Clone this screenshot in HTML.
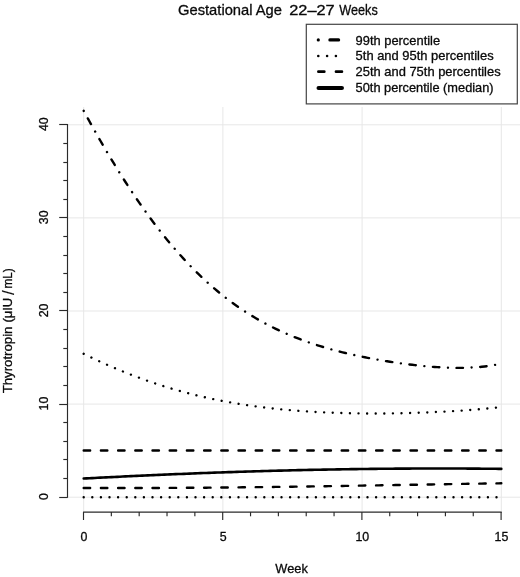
<!DOCTYPE html>
<html><head><meta charset="utf-8"><title>Gestational Age 22–27 Weeks</title>
<style>html,body{margin:0;padding:0;background:#fff}svg{display:block}</style></head>
<body>
<svg width="520" height="577" viewBox="0 0 520 577">
<rect width="520" height="577" fill="#fff"/>
<g stroke="#e7e7e7" stroke-width="1" fill="none">
<line x1="67.5" x2="520" y1="497.20" y2="497.20"/>
<line x1="67.5" x2="520" y1="404.10" y2="404.10"/>
<line x1="67.5" x2="520" y1="311.00" y2="311.00"/>
<line x1="67.5" x2="520" y1="217.90" y2="217.90"/>
<line x1="67.5" x2="520" y1="124.80" y2="124.80"/>
<line x1="83.70" x2="83.70" y1="107" y2="511"/>
<line x1="222.90" x2="222.90" y1="107" y2="511"/>
<line x1="362.10" x2="362.10" y1="107" y2="511"/>
<line x1="501.30" x2="501.30" y1="107" y2="511"/>
</g>
<g fill="none" stroke="#000" stroke-width="2.4" stroke-linecap="round" stroke-linejoin="round">
<path d="M83.70,110.87 L86.48,115.98 L89.27,121.03 L92.05,126.04 L94.84,131.00 L97.62,135.91 L100.40,140.76 L103.19,145.57 L105.97,150.32 L108.76,155.02 L111.54,159.66 L114.32,164.24 L117.11,168.77 L119.89,173.24 L122.68,177.65 L125.46,182.00 L128.24,186.29 L131.03,190.53 L133.81,194.70 L136.60,198.81 L139.38,202.85 L142.16,206.84 L144.95,210.76 L147.73,214.62 L150.52,218.42 L153.30,222.16 L156.08,225.83 L158.87,229.44 L161.65,232.98 L164.44,236.47 L167.22,239.89 L170.00,243.25 L172.79,246.54 L175.57,249.77 L178.36,252.95 L181.14,256.06 L183.92,259.10 L186.71,262.09 L189.49,265.02 L192.28,267.88 L195.06,270.69 L197.84,273.43 L200.63,276.12 L203.41,278.75 L206.20,281.32 L208.98,283.84 L211.76,286.29 L214.55,288.69 L217.33,291.04 L220.12,293.33 L222.90,295.57 L225.68,297.75 L228.47,299.88 L231.25,301.96 L234.04,303.99 L236.82,305.97 L239.60,307.90 L242.39,309.78 L245.17,311.61 L247.96,313.39 L250.74,315.13 L253.52,316.82 L256.31,318.47 L259.09,320.08 L261.88,321.64 L264.66,323.16 L267.44,324.64 L270.23,326.08 L273.01,327.48 L275.80,328.84 L278.58,330.17 L281.36,331.46 L284.15,332.71 L286.93,333.93 L289.72,335.11 L292.50,336.26 L295.28,337.38 L298.07,338.47 L300.85,339.53 L303.64,340.56 L306.42,341.55 L309.20,342.53 L311.99,343.47 L314.77,344.39 L317.56,345.28 L320.34,346.15 L323.12,347.00 L325.91,347.82 L328.69,348.62 L331.48,349.40 L334.26,350.15 L337.04,350.89 L339.83,351.61 L342.61,352.30 L345.40,352.98 L348.18,353.65 L350.96,354.29 L353.75,354.92 L356.53,355.53 L359.32,356.12 L362.10,356.70 L364.88,357.27 L367.67,357.82 L370.45,358.36 L373.24,358.88 L376.02,359.39 L378.80,359.88 L381.59,360.36 L384.37,360.83 L387.16,361.29 L389.94,361.73 L392.72,362.16 L395.51,362.58 L398.29,362.98 L401.08,363.37 L403.86,363.75 L406.64,364.11 L409.43,364.46 L412.21,364.80 L415.00,365.12 L417.78,365.43 L420.56,365.73 L423.35,366.00 L426.13,366.26 L428.92,366.51 L431.70,366.74 L434.48,366.95 L437.27,367.14 L440.05,367.31 L442.84,367.46 L445.62,367.59 L448.40,367.70 L451.19,367.78 L453.97,367.84 L456.76,367.87 L459.54,367.88 L462.32,367.85 L465.11,367.80 L467.89,367.72 L470.68,367.60 L473.46,367.45 L476.24,367.27 L479.03,367.04 L481.81,366.78 L484.60,366.47 L487.38,366.12 L490.16,365.73 L492.95,365.28 L495.73,364.79 L498.52,364.25 L501.30,363.65" stroke-dasharray="0.01 8.59 6.45 8.60"/>
<path d="M83.70,353.82 L86.48,355.19 L89.27,356.54 L92.05,357.87 L94.84,359.19 L97.62,360.49 L100.40,361.77 L103.19,363.03 L105.97,364.28 L108.76,365.51 L111.54,366.72 L114.32,367.92 L117.11,369.10 L119.89,370.26 L122.68,371.40 L125.46,372.52 L128.24,373.63 L131.03,374.72 L133.81,375.79 L136.60,376.84 L139.38,377.87 L142.16,378.89 L144.95,379.89 L147.73,380.87 L150.52,381.84 L153.30,382.79 L156.08,383.72 L158.87,384.63 L161.65,385.52 L164.44,386.40 L167.22,387.26 L170.00,388.11 L172.79,388.93 L175.57,389.74 L178.36,390.54 L181.14,391.31 L183.92,392.07 L186.71,392.82 L189.49,393.54 L192.28,394.25 L195.06,394.95 L197.84,395.63 L200.63,396.29 L203.41,396.94 L206.20,397.57 L208.98,398.19 L211.76,398.79 L214.55,399.38 L217.33,399.95 L220.12,400.50 L222.90,401.05 L225.68,401.57 L228.47,402.09 L231.25,402.59 L234.04,403.07 L236.82,403.54 L239.60,404.00 L242.39,404.45 L245.17,404.88 L247.96,405.30 L250.74,405.70 L253.52,406.09 L256.31,406.47 L259.09,406.84 L261.88,407.20 L264.66,407.54 L267.44,407.87 L270.23,408.19 L273.01,408.50 L275.80,408.80 L278.58,409.09 L281.36,409.36 L284.15,409.63 L286.93,409.88 L289.72,410.13 L292.50,410.36 L295.28,410.59 L298.07,410.80 L300.85,411.01 L303.64,411.20 L306.42,411.39 L309.20,411.57 L311.99,411.73 L314.77,411.89 L317.56,412.04 L320.34,412.18 L323.12,412.32 L325.91,412.44 L328.69,412.56 L331.48,412.67 L334.26,412.77 L337.04,412.87 L339.83,412.95 L342.61,413.03 L345.40,413.11 L348.18,413.17 L350.96,413.23 L353.75,413.28 L356.53,413.33 L359.32,413.36 L362.10,413.40 L364.88,413.42 L367.67,413.44 L370.45,413.45 L373.24,413.46 L376.02,413.46 L378.80,413.45 L381.59,413.44 L384.37,413.43 L387.16,413.40 L389.94,413.37 L392.72,413.34 L395.51,413.30 L398.29,413.25 L401.08,413.20 L403.86,413.14 L406.64,413.08 L409.43,413.01 L412.21,412.94 L415.00,412.86 L417.78,412.77 L420.56,412.68 L423.35,412.58 L426.13,412.48 L428.92,412.37 L431.70,412.26 L434.48,412.13 L437.27,412.01 L440.05,411.87 L442.84,411.74 L445.62,411.59 L448.40,411.44 L451.19,411.28 L453.97,411.11 L456.76,410.94 L459.54,410.76 L462.32,410.57 L465.11,410.38 L467.89,410.18 L470.68,409.97 L473.46,409.75 L476.24,409.52 L479.03,409.29 L481.81,409.05 L484.60,408.79 L487.38,408.53 L490.16,408.26 L492.95,407.98 L495.73,407.69 L498.52,407.39 L501.30,407.08" stroke-dasharray="0.01 8.59"/>
<path d="M83.70,450.55 L86.48,450.55 L89.27,450.55 L92.05,450.55 L94.84,450.55 L97.62,450.55 L100.40,450.55 L103.19,450.55 L105.97,450.55 L108.76,450.55 L111.54,450.55 L114.32,450.55 L117.11,450.55 L119.89,450.55 L122.68,450.55 L125.46,450.55 L128.24,450.55 L131.03,450.55 L133.81,450.55 L136.60,450.55 L139.38,450.55 L142.16,450.55 L144.95,450.55 L147.73,450.55 L150.52,450.55 L153.30,450.55 L156.08,450.55 L158.87,450.55 L161.65,450.55 L164.44,450.55 L167.22,450.55 L170.00,450.55 L172.79,450.55 L175.57,450.55 L178.36,450.55 L181.14,450.55 L183.92,450.55 L186.71,450.55 L189.49,450.55 L192.28,450.55 L195.06,450.55 L197.84,450.55 L200.63,450.55 L203.41,450.55 L206.20,450.55 L208.98,450.55 L211.76,450.55 L214.55,450.55 L217.33,450.55 L220.12,450.55 L222.90,450.55 L225.68,450.55 L228.47,450.55 L231.25,450.55 L234.04,450.55 L236.82,450.55 L239.60,450.55 L242.39,450.55 L245.17,450.55 L247.96,450.55 L250.74,450.55 L253.52,450.55 L256.31,450.55 L259.09,450.55 L261.88,450.55 L264.66,450.55 L267.44,450.55 L270.23,450.55 L273.01,450.55 L275.80,450.55 L278.58,450.55 L281.36,450.55 L284.15,450.55 L286.93,450.55 L289.72,450.55 L292.50,450.55 L295.28,450.55 L298.07,450.55 L300.85,450.55 L303.64,450.55 L306.42,450.55 L309.20,450.55 L311.99,450.55 L314.77,450.55 L317.56,450.55 L320.34,450.55 L323.12,450.55 L325.91,450.55 L328.69,450.55 L331.48,450.55 L334.26,450.55 L337.04,450.55 L339.83,450.55 L342.61,450.55 L345.40,450.55 L348.18,450.55 L350.96,450.55 L353.75,450.55 L356.53,450.55 L359.32,450.55 L362.10,450.55 L364.88,450.55 L367.67,450.55 L370.45,450.55 L373.24,450.55 L376.02,450.55 L378.80,450.55 L381.59,450.55 L384.37,450.55 L387.16,450.55 L389.94,450.55 L392.72,450.55 L395.51,450.55 L398.29,450.55 L401.08,450.55 L403.86,450.55 L406.64,450.55 L409.43,450.55 L412.21,450.55 L415.00,450.55 L417.78,450.55 L420.56,450.55 L423.35,450.55 L426.13,450.55 L428.92,450.55 L431.70,450.55 L434.48,450.55 L437.27,450.55 L440.05,450.55 L442.84,450.55 L445.62,450.55 L448.40,450.55 L451.19,450.55 L453.97,450.55 L456.76,450.55 L459.54,450.55 L462.32,450.55 L465.11,450.55 L467.89,450.55 L470.68,450.55 L473.46,450.55 L476.24,450.55 L479.03,450.55 L481.81,450.55 L484.60,450.55 L487.38,450.55 L490.16,450.55 L492.95,450.55 L495.73,450.55 L498.52,450.55 L501.30,450.55" stroke-dasharray="6.45 10.75"/>
<path d="M83.70,478.55 L86.48,478.40 L89.27,478.26 L92.05,478.11 L94.84,477.96 L97.62,477.82 L100.40,477.67 L103.19,477.53 L105.97,477.39 L108.76,477.25 L111.54,477.11 L114.32,476.97 L117.11,476.83 L119.89,476.69 L122.68,476.56 L125.46,476.42 L128.24,476.29 L131.03,476.16 L133.81,476.02 L136.60,475.89 L139.38,475.76 L142.16,475.63 L144.95,475.51 L147.73,475.38 L150.52,475.25 L153.30,475.13 L156.08,475.01 L158.87,474.88 L161.65,474.76 L164.44,474.64 L167.22,474.52 L170.00,474.40 L172.79,474.29 L175.57,474.17 L178.36,474.06 L181.14,473.94 L183.92,473.83 L186.71,473.72 L189.49,473.61 L192.28,473.50 L195.06,473.39 L197.84,473.28 L200.63,473.17 L203.41,473.07 L206.20,472.96 L208.98,472.86 L211.76,472.76 L214.55,472.66 L217.33,472.56 L220.12,472.46 L222.90,472.36 L225.68,472.27 L228.47,472.17 L231.25,472.08 L234.04,471.99 L236.82,471.89 L239.60,471.80 L242.39,471.71 L245.17,471.63 L247.96,471.54 L250.74,471.45 L253.52,471.37 L256.31,471.28 L259.09,471.20 L261.88,471.12 L264.66,471.04 L267.44,470.96 L270.23,470.88 L273.01,470.81 L275.80,470.73 L278.58,470.66 L281.36,470.59 L284.15,470.51 L286.93,470.44 L289.72,470.37 L292.50,470.31 L295.28,470.24 L298.07,470.17 L300.85,470.11 L303.64,470.05 L306.42,469.98 L309.20,469.92 L311.99,469.86 L314.77,469.81 L317.56,469.75 L320.34,469.69 L323.12,469.64 L325.91,469.58 L328.69,469.53 L331.48,469.48 L334.26,469.43 L337.04,469.38 L339.83,469.34 L342.61,469.29 L345.40,469.25 L348.18,469.20 L350.96,469.16 L353.75,469.12 L356.53,469.08 L359.32,469.04 L362.10,469.01 L364.88,468.97 L367.67,468.94 L370.45,468.90 L373.24,468.87 L376.02,468.84 L378.80,468.81 L381.59,468.78 L384.37,468.76 L387.16,468.73 L389.94,468.71 L392.72,468.69 L395.51,468.66 L398.29,468.64 L401.08,468.63 L403.86,468.61 L406.64,468.59 L409.43,468.58 L412.21,468.57 L415.00,468.55 L417.78,468.54 L420.56,468.53 L423.35,468.53 L426.13,468.52 L428.92,468.51 L431.70,468.51 L434.48,468.51 L437.27,468.51 L440.05,468.51 L442.84,468.51 L445.62,468.51 L448.40,468.52 L451.19,468.52 L453.97,468.53 L456.76,468.54 L459.54,468.55 L462.32,468.56 L465.11,468.57 L467.89,468.59 L470.68,468.60 L473.46,468.62 L476.24,468.64 L479.03,468.66 L481.81,468.68 L484.60,468.70 L487.38,468.73 L490.16,468.75 L492.95,468.78 L495.73,468.81 L498.52,468.84 L501.30,468.87" stroke-width="2.6"/>
<path d="M83.70,487.96 L86.48,487.97 L89.27,487.99 L92.05,488.00 L94.84,488.01 L97.62,488.01 L100.40,488.02 L103.19,488.03 L105.97,488.03 L108.76,488.04 L111.54,488.04 L114.32,488.05 L117.11,488.05 L119.89,488.05 L122.68,488.05 L125.46,488.05 L128.24,488.05 L131.03,488.04 L133.81,488.04 L136.60,488.04 L139.38,488.03 L142.16,488.03 L144.95,488.02 L147.73,488.01 L150.52,488.00 L153.30,487.99 L156.08,487.98 L158.87,487.97 L161.65,487.96 L164.44,487.95 L167.22,487.94 L170.00,487.92 L172.79,487.91 L175.57,487.89 L178.36,487.88 L181.14,487.86 L183.92,487.84 L186.71,487.82 L189.49,487.80 L192.28,487.78 L195.06,487.76 L197.84,487.74 L200.63,487.72 L203.41,487.70 L206.20,487.68 L208.98,487.65 L211.76,487.63 L214.55,487.60 L217.33,487.58 L220.12,487.55 L222.90,487.52 L225.68,487.50 L228.47,487.47 L231.25,487.44 L234.04,487.41 L236.82,487.38 L239.60,487.35 L242.39,487.32 L245.17,487.29 L247.96,487.26 L250.74,487.23 L253.52,487.19 L256.31,487.16 L259.09,487.13 L261.88,487.09 L264.66,487.06 L267.44,487.02 L270.23,486.99 L273.01,486.95 L275.80,486.91 L278.58,486.88 L281.36,486.84 L284.15,486.80 L286.93,486.76 L289.72,486.73 L292.50,486.69 L295.28,486.65 L298.07,486.61 L300.85,486.57 L303.64,486.53 L306.42,486.49 L309.20,486.44 L311.99,486.40 L314.77,486.36 L317.56,486.32 L320.34,486.28 L323.12,486.23 L325.91,486.19 L328.69,486.15 L331.48,486.10 L334.26,486.06 L337.04,486.02 L339.83,485.97 L342.61,485.93 L345.40,485.88 L348.18,485.84 L350.96,485.79 L353.75,485.75 L356.53,485.70 L359.32,485.66 L362.10,485.61 L364.88,485.57 L367.67,485.52 L370.45,485.47 L373.24,485.43 L376.02,485.38 L378.80,485.33 L381.59,485.29 L384.37,485.24 L387.16,485.19 L389.94,485.14 L392.72,485.10 L395.51,485.05 L398.29,485.00 L401.08,484.96 L403.86,484.91 L406.64,484.86 L409.43,484.81 L412.21,484.77 L415.00,484.72 L417.78,484.67 L420.56,484.62 L423.35,484.57 L426.13,484.53 L428.92,484.48 L431.70,484.43 L434.48,484.38 L437.27,484.34 L440.05,484.29 L442.84,484.24 L445.62,484.20 L448.40,484.15 L451.19,484.10 L453.97,484.05 L456.76,484.01 L459.54,483.96 L462.32,483.91 L465.11,483.87 L467.89,483.82 L470.68,483.78 L473.46,483.73 L476.24,483.68 L479.03,483.64 L481.81,483.59 L484.60,483.55 L487.38,483.50 L490.16,483.46 L492.95,483.41 L495.73,483.37 L498.52,483.33 L501.30,483.28" stroke-dasharray="6.45 10.75"/>
<path d="M83.70,497.20 L86.48,497.20 L89.27,497.20 L92.05,497.20 L94.84,497.20 L97.62,497.20 L100.40,497.20 L103.19,497.20 L105.97,497.20 L108.76,497.20 L111.54,497.20 L114.32,497.20 L117.11,497.20 L119.89,497.20 L122.68,497.20 L125.46,497.20 L128.24,497.20 L131.03,497.20 L133.81,497.20 L136.60,497.20 L139.38,497.20 L142.16,497.20 L144.95,497.20 L147.73,497.20 L150.52,497.20 L153.30,497.20 L156.08,497.20 L158.87,497.20 L161.65,497.20 L164.44,497.20 L167.22,497.20 L170.00,497.20 L172.79,497.20 L175.57,497.20 L178.36,497.20 L181.14,497.20 L183.92,497.20 L186.71,497.20 L189.49,497.20 L192.28,497.20 L195.06,497.20 L197.84,497.20 L200.63,497.20 L203.41,497.20 L206.20,497.20 L208.98,497.20 L211.76,497.20 L214.55,497.20 L217.33,497.20 L220.12,497.20 L222.90,497.20 L225.68,497.20 L228.47,497.20 L231.25,497.20 L234.04,497.20 L236.82,497.20 L239.60,497.20 L242.39,497.20 L245.17,497.20 L247.96,497.20 L250.74,497.20 L253.52,497.20 L256.31,497.20 L259.09,497.20 L261.88,497.20 L264.66,497.20 L267.44,497.20 L270.23,497.20 L273.01,497.20 L275.80,497.20 L278.58,497.20 L281.36,497.20 L284.15,497.20 L286.93,497.20 L289.72,497.20 L292.50,497.20 L295.28,497.20 L298.07,497.20 L300.85,497.20 L303.64,497.20 L306.42,497.20 L309.20,497.20 L311.99,497.20 L314.77,497.20 L317.56,497.20 L320.34,497.20 L323.12,497.20 L325.91,497.20 L328.69,497.20 L331.48,497.20 L334.26,497.20 L337.04,497.20 L339.83,497.20 L342.61,497.20 L345.40,497.20 L348.18,497.20 L350.96,497.20 L353.75,497.20 L356.53,497.20 L359.32,497.20 L362.10,497.20 L364.88,497.20 L367.67,497.20 L370.45,497.20 L373.24,497.20 L376.02,497.20 L378.80,497.20 L381.59,497.20 L384.37,497.20 L387.16,497.20 L389.94,497.20 L392.72,497.20 L395.51,497.20 L398.29,497.20 L401.08,497.20 L403.86,497.20 L406.64,497.20 L409.43,497.20 L412.21,497.20 L415.00,497.20 L417.78,497.20 L420.56,497.20 L423.35,497.20 L426.13,497.20 L428.92,497.20 L431.70,497.20 L434.48,497.20 L437.27,497.20 L440.05,497.20 L442.84,497.20 L445.62,497.20 L448.40,497.20 L451.19,497.20 L453.97,497.20 L456.76,497.20 L459.54,497.20 L462.32,497.20 L465.11,497.20 L467.89,497.20 L470.68,497.20 L473.46,497.20 L476.24,497.20 L479.03,497.20 L481.81,497.20 L484.60,497.20 L487.38,497.20 L490.16,497.20 L492.95,497.20 L495.73,497.20 L498.52,497.20 L501.30,497.20" stroke-dasharray="0.01 8.59"/>
</g>
<g stroke="#2a2a2a" stroke-width="1.15" fill="none">
<line x1="67.5" x2="67.5" y1="124.10" y2="497.80"/>
<line x1="59.2" x2="67.5" y1="497.50" y2="497.50"/>
<line x1="63.3" x2="67.5" y1="478.50" y2="478.50"/>
<line x1="63.3" x2="67.5" y1="459.50" y2="459.50"/>
<line x1="63.3" x2="67.5" y1="441.50" y2="441.50"/>
<line x1="63.3" x2="67.5" y1="422.50" y2="422.50"/>
<line x1="59.2" x2="67.5" y1="404.50" y2="404.50"/>
<line x1="63.3" x2="67.5" y1="385.50" y2="385.50"/>
<line x1="63.3" x2="67.5" y1="366.50" y2="366.50"/>
<line x1="63.3" x2="67.5" y1="348.50" y2="348.50"/>
<line x1="63.3" x2="67.5" y1="329.50" y2="329.50"/>
<line x1="59.2" x2="67.5" y1="310.50" y2="310.50"/>
<line x1="63.3" x2="67.5" y1="292.50" y2="292.50"/>
<line x1="63.3" x2="67.5" y1="273.50" y2="273.50"/>
<line x1="63.3" x2="67.5" y1="255.50" y2="255.50"/>
<line x1="63.3" x2="67.5" y1="236.50" y2="236.50"/>
<line x1="59.2" x2="67.5" y1="217.50" y2="217.50"/>
<line x1="63.3" x2="67.5" y1="199.50" y2="199.50"/>
<line x1="63.3" x2="67.5" y1="180.50" y2="180.50"/>
<line x1="63.3" x2="67.5" y1="162.50" y2="162.50"/>
<line x1="63.3" x2="67.5" y1="143.50" y2="143.50"/>
<line x1="59.2" x2="67.5" y1="124.50" y2="124.50"/>
<line x1="83.00" x2="501.80" y1="512.1" y2="512.1"/>
<line x1="83.50" x2="83.50" y1="512.1" y2="520"/>
<line x1="111.34" x2="111.34" y1="512.1" y2="516.3"/>
<line x1="139.18" x2="139.18" y1="512.1" y2="516.3"/>
<line x1="167.02" x2="167.02" y1="512.1" y2="516.3"/>
<line x1="194.86" x2="194.86" y1="512.1" y2="516.3"/>
<line x1="222.70" x2="222.70" y1="512.1" y2="520"/>
<line x1="250.54" x2="250.54" y1="512.1" y2="516.3"/>
<line x1="278.38" x2="278.38" y1="512.1" y2="516.3"/>
<line x1="306.22" x2="306.22" y1="512.1" y2="516.3"/>
<line x1="334.06" x2="334.06" y1="512.1" y2="516.3"/>
<line x1="361.90" x2="361.90" y1="512.1" y2="520"/>
<line x1="389.74" x2="389.74" y1="512.1" y2="516.3"/>
<line x1="417.58" x2="417.58" y1="512.1" y2="516.3"/>
<line x1="445.42" x2="445.42" y1="512.1" y2="516.3"/>
<line x1="473.26" x2="473.26" y1="512.1" y2="516.3"/>
<line x1="501.10" x2="501.10" y1="512.1" y2="520"/>
</g>
<g font-family="'Liberation Sans', sans-serif" fill="#0a0a0a" stroke="#0a0a0a" stroke-width="0.3">
<text y="14.8" font-size="15"><tspan x="178" textLength="104" lengthAdjust="spacingAndGlyphs">Gestational Age</tspan> <tspan x="289.2" textLength="45.5" lengthAdjust="spacingAndGlyphs">22–27</tspan> <tspan x="339.3" textLength="38.5" lengthAdjust="spacingAndGlyphs">Weeks</tspan></text>
<text transform="translate(48.1,496.60) rotate(-90)" text-anchor="middle" font-size="12.4">0</text>
<text transform="translate(48.1,403.50) rotate(-90)" text-anchor="middle" font-size="12.4">10</text>
<text transform="translate(48.1,310.40) rotate(-90)" text-anchor="middle" font-size="12.4">20</text>
<text transform="translate(48.1,217.30) rotate(-90)" text-anchor="middle" font-size="12.4">30</text>
<text transform="translate(48.1,124.20) rotate(-90)" text-anchor="middle" font-size="12.4">40</text>
<text x="83.90" y="541" text-anchor="middle" font-size="12.4">0</text>
<text x="223.10" y="541" text-anchor="middle" font-size="12.4">5</text>
<text x="362.30" y="541" text-anchor="middle" font-size="12.4">10</text>
<text x="501.50" y="541" text-anchor="middle" font-size="12.4">15</text>
<text x="275.3" y="573.2" font-size="13.2" textLength="32.5" lengthAdjust="spacingAndGlyphs">Week</text>
<text transform="translate(11.9,393.3) rotate(-90)" font-size="12.6"><tspan x="0" textLength="66.7" lengthAdjust="spacingAndGlyphs">Thyrotropin</tspan> <tspan x="70.7" textLength="24.9" lengthAdjust="spacingAndGlyphs">(μIU</tspan> <tspan x="98.2" dy="1.7" font-size="17" stroke-width="0.1">/</tspan><tspan x="104.9" dy="-1.7" textLength="20.2" lengthAdjust="spacingAndGlyphs">mL)</tspan></text>
</g>
<rect x="306.3" y="24.3" width="211" height="79.6" fill="#fff" stroke="#444" stroke-width="1.2"/>
<g stroke="#000" fill="none" stroke-linecap="round">
<circle cx="318.3" cy="39.9" r="1.6" fill="#000" stroke="none"/>
<line x1="329.9" x2="338.6" y1="39.9" y2="39.9" stroke-width="3.2"/>
<circle cx="318.3" cy="56" r="1.3" fill="#000" stroke="none"/>
<circle cx="327.1" cy="56" r="1.3" fill="#000" stroke="none"/>
<circle cx="335.9" cy="56" r="1.3" fill="#000" stroke="none"/>
<line x1="318.4" x2="324.3" y1="71.7" y2="71.7" stroke-width="2.7"/>
<line x1="336" x2="341.9" y1="71.7" y2="71.7" stroke-width="2.7"/>
<line x1="318.6" x2="341.9" y1="88" y2="88" stroke-width="4.2"/>
</g>
<g font-family="'Liberation Sans', sans-serif" fill="#0a0a0a" stroke="#0a0a0a" stroke-width="0.3" font-size="12.2">
<text x="355.6" y="44.5" textLength="84.5" lengthAdjust="spacingAndGlyphs">99th percentile</text>
<text x="355.6" y="60.4" textLength="138" lengthAdjust="spacingAndGlyphs">5th and 95th percentiles</text>
<text x="355.6" y="76.2" textLength="145" lengthAdjust="spacingAndGlyphs">25th and 75th percentiles</text>
<text x="355.6" y="92.0" textLength="138" lengthAdjust="spacingAndGlyphs">50th percentile (median)</text>
</g>
</svg>
</body></html>
